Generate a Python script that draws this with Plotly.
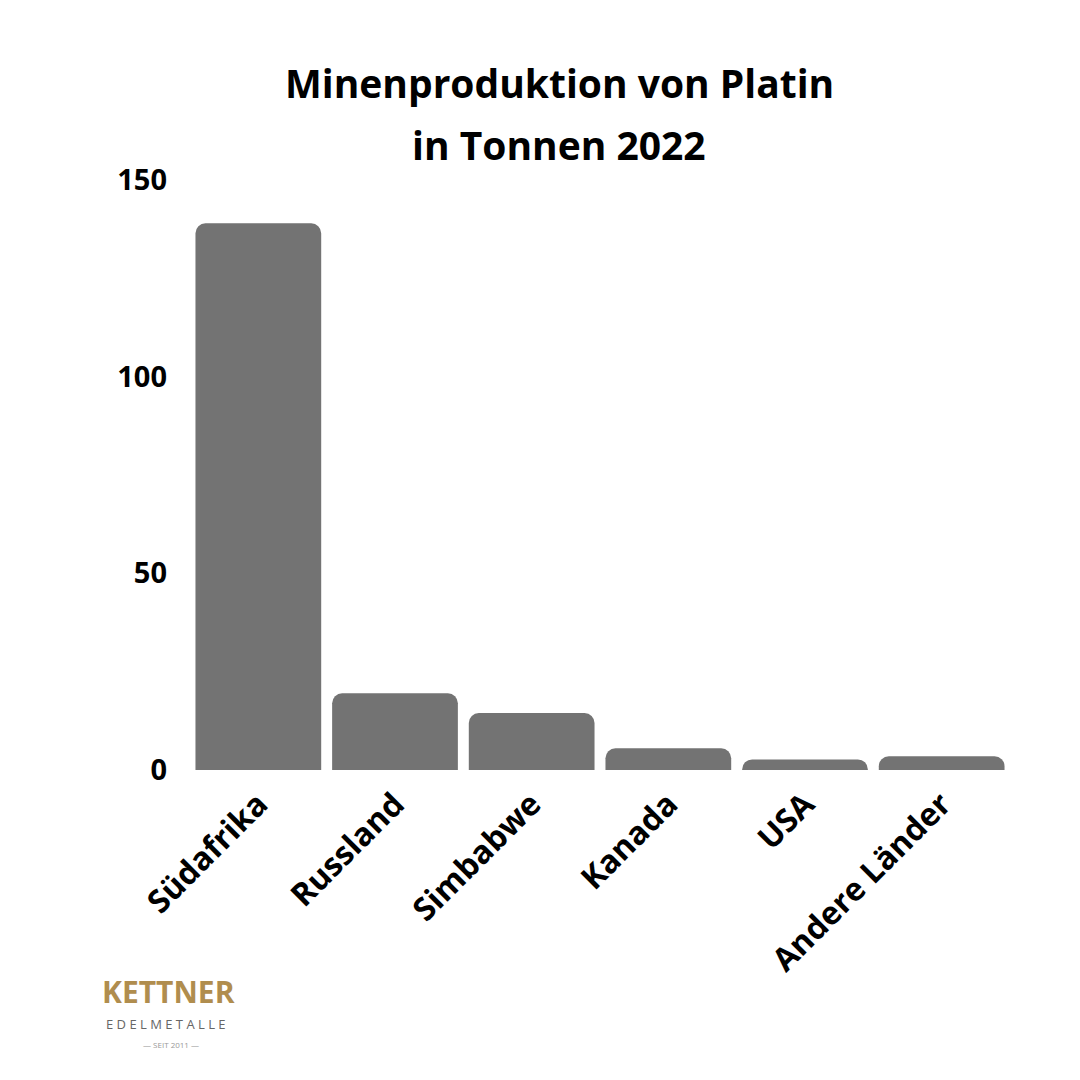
import plotly.graph_objects as go

laender = ["Südafrika", "Russland", "Simbabwe", "Kanada", "USA", "Andere Länder"]
tonnen = [139, 19.5, 14.5, 5.5, 2.7, 3.5]

fig = go.Figure(go.Bar(x=laender, y=tonnen, marker_color="#737373", marker_line_width=0))

fig.update_layout(
    width=1080, height=1080,
    paper_bgcolor="white", plot_bgcolor="white",
    margin=dict(l=182, r=78, t=172, b=318),
    bargap=0.08, barcornerradius=10,
    font=dict(family="Open Sans", color="black"),
    showlegend=False,
)
fig.add_annotation(xref="paper", yref="paper", x=0.45, y=1.165, xanchor="center", yanchor="middle",
                   text="<b>Minenproduktion von Platin</b>", showarrow=False,
                   font=dict(size=39, family="Open Sans", color="black"))
fig.add_annotation(xref="paper", yref="paper", x=0.45, y=1.06, xanchor="center", yanchor="middle",
                   text="<b>in Tonnen 2022</b>", showarrow=False,
                   font=dict(size=39, family="Open Sans", color="black"))
fig.update_xaxes(tickangle=-45, tickfont=dict(size=32, family="Open Sans", weight="bold"),
                 showgrid=False, showline=False, ticklabelstandoff=8)
fig.update_yaxes(range=[0, 150], tickvals=[0, 50, 100, 150], showgrid=False, zeroline=False,
                 tickfont=dict(size=29, family="Open Sans", weight="bold"), ticklabelstandoff=22)

fig.add_annotation(xref="paper", yref="paper", x=-0.11, y=-0.375, xanchor="left", yanchor="middle",
                   text="<b>KETTNER</b>", showarrow=False,
                   font=dict(size=30, color="#b08d4e", family="Open Sans"))
fig.add_annotation(xref="paper", yref="paper", x=-0.105, y=-0.43, xanchor="left", yanchor="middle",
                   text="E D E L M E T A L L E", showarrow=False,
                   font=dict(size=13, color="#666666", family="Open Sans"))
fig.add_annotation(xref="paper", yref="paper", x=-0.06, y=-0.465, xanchor="left", yanchor="middle",
                   text="— SEIT 2011 —", showarrow=False,
                   font=dict(size=8, color="#999999", family="Open Sans"))

fig.write_html("out.html")
